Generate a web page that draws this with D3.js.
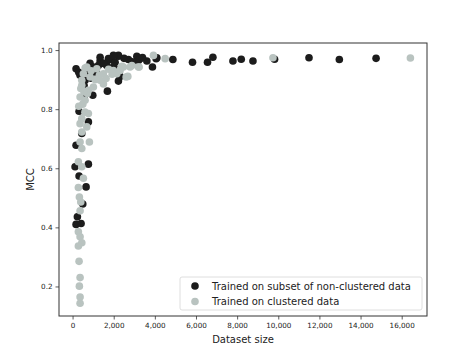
<!DOCTYPE html>
<html>
<head>
<meta charset="utf-8">
<title>MCC vs dataset size</title>
<script src="https://d3js.org/d3.v7.min.js"></script>
<style>
  body { margin: 0; background: #fff; }
  text { font-family: "DejaVu Sans", sans-serif; fill: #222; }
</style>
</head>
<body>
<div id="chart"></div>
<script>
// trained on subset of non-clustered data: [dataset size, MCC]
var nonClustered = [
  [170, 0.937], [720, 0.926], [1012, 0.931], [1338, 0.963], [1664, 0.948],
  [1825, 0.968], [2229, 0.979], [2068, 0.959], [2715, 0.968], [3124, 0.979],
  [3202, 0.965], [3611, 0.963], [4097, 0.974], [3883, 0.943], [1693, 0.861],
  [2229, 0.895], [2311, 0.911], [316, 0.793], [769, 0.757], [448, 0.718],
  [170, 0.678], [122, 0.605], [769, 0.614], [316, 0.574], [657, 0.537],
  [560, 0.841], [983, 0.847], [496, 0.479], [234, 0.436], [170, 0.410],
  [414, 0.413], [2229, 0.982], [3285, 0.971], [1338, 0.976], [1742, 0.971],
  [1985, 0.982], [1012, 0.943], [1255, 0.948], [365, 0.915], [608, 0.898],
  [300, 0.925], [850, 0.955], [1150, 0.925], [1520, 0.955], [2000, 0.945],
  [2500, 0.972], [2900, 0.960], [3400, 0.975], [560, 0.880], [900, 0.905],
  [4063, 0.971], [4876, 0.968], [5830, 0.959], [6560, 0.959], [6822, 0.976],
  [7796, 0.963], [8200, 0.969], [8769, 0.963], [9820, 0.969], [11494, 0.974],
  [12968, 0.968], [14754, 0.972]
];

// trained on clustered data: [dataset size, MCC]
var clustered = [
  [608, 0.939], [1178, 0.937], [1499, 0.920], [1985, 0.931], [2472, 0.943],
  [2603, 0.909], [2881, 0.948], [3202, 0.943], [1338, 0.898], [852, 0.909],
  [448, 0.898], [448, 0.881], [769, 0.864], [1012, 0.875], [365, 0.841],
  [608, 0.830], [720, 0.853], [496, 0.817], [769, 0.785], [448, 0.768],
  [365, 0.751], [691, 0.740], [448, 0.723], [365, 0.689], [818, 0.689],
  [448, 0.667], [282, 0.622], [448, 0.605], [526, 0.566], [282, 0.535],
  [331, 0.503], [399, 0.486], [365, 0.456], [282, 0.385], [365, 0.368],
  [448, 0.348], [282, 0.337], [316, 0.285], [365, 0.230], [331, 0.201],
  [365, 0.164], [365, 0.143], [3932, 0.982], [4501, 0.971], [2394, 0.945],
  [2798, 0.943], [3236, 0.943], [2151, 0.920], [2686, 0.911], [691, 0.943],
  [526, 0.920], [1630, 0.904], [1922, 0.918], [2311, 0.931], [900, 0.930],
  [1300, 0.915], [1750, 0.935], [550, 0.860], [400, 0.870], [1100, 0.900],
  [1500, 0.885], [300, 0.810], [600, 0.790], [9742, 0.974], [16423, 0.973]
];

var xTicks = [0, 2000, 4000, 6000, 8000, 10000, 12000, 14000, 16000];
var yTicks = [0.2, 0.4, 0.6, 0.8, 1.0];
var seriesNames = ["Trained on subset of non-clustered data", "Trained on clustered data"];
var seriesColors = ["#1c1c1c", "#b9c3c0"];

var width = 474, height = 355;
var margin = {top: 43, right: 47, bottom: 39, left: 59};

var svg = d3.select("#chart").append("svg")
    .attr("width", width)
    .attr("height", height);

var x = d3.scaleLinear()
    .domain([-660, 17230])
    .range([margin.left, width - margin.right]);

var y = d3.scaleLinear()
    .domain([0.1, 1.024])
    .range([height - margin.bottom, margin.top]);

var r = 3.8;

// points: black first, grey drawn over it
[nonClustered, clustered].forEach(function(data, i) {
  svg.append("g").selectAll("circle")
      .data(data)
    .enter().append("circle")
      .attr("cx", function(d) { return x(d[0]); })
      .attr("cy", function(d) { return y(d[1]); })
      .attr("r", r)
      .attr("fill", seriesColors[i]);
});

// axes
var xAxis = svg.append("g")
    .attr("transform", "translate(0," + (height - margin.bottom) + ")")
    .call(d3.axisBottom(x).tickValues(xTicks).tickFormat(d3.format(",")).tickSize(3.5).tickPadding(3));

var yAxis = svg.append("g")
    .attr("transform", "translate(" + margin.left + ",0)")
    .call(d3.axisLeft(y).tickValues(yTicks).tickFormat(d3.format(".1f")).tickSize(3.5).tickPadding(3));

[xAxis, yAxis].forEach(function(a) {
  a.select(".domain").remove();
  a.selectAll(".tick line").attr("stroke", "#333").attr("stroke-width", 0.8);
  a.selectAll(".tick text").attr("font-size", 7.2).style("fill", "#222")
      .attr("font-family", "DejaVu Sans, sans-serif");
});

// frame
svg.append("rect")
    .attr("x", margin.left)
    .attr("y", margin.top)
    .attr("width", width - margin.left - margin.right)
    .attr("height", height - margin.top - margin.bottom)
    .attr("fill", "none")
    .attr("stroke", "#333")
    .attr("stroke-width", 1);

// axis labels
svg.append("text")
    .attr("x", (margin.left + width - margin.right) / 2)
    .attr("y", 343)
    .attr("text-anchor", "middle")
    .attr("font-size", 10)
    .text("Dataset size");

svg.append("text")
    .attr("transform", "translate(34," + ((margin.top + height - margin.bottom) / 2) + ") rotate(-90)")
    .attr("text-anchor", "middle")
    .attr("font-size", 10)
    .text("MCC");

// legend
var legend = svg.append("g");
legend.append("rect")
    .attr("x", 180)
    .attr("y", 277)
    .attr("width", 242)
    .attr("height", 33)
    .attr("rx", 2)
    .attr("fill", "#fff")
    .attr("fill-opacity", 0.85)
    .attr("stroke", "#d6d6d6")
    .attr("stroke-width", 0.8);

seriesNames.forEach(function(name, i) {
  legend.append("circle")
      .attr("cx", 195)
      .attr("cy", 286 + i * 15.5)
      .attr("r", r)
      .attr("fill", seriesColors[i]);
  legend.append("text")
      .attr("x", 212)
      .attr("y", 286 + i * 15.5)
      .attr("dy", "0.35em")
      .attr("font-size", 10)
      .text(name);
});
</script>
</body>
</html>
